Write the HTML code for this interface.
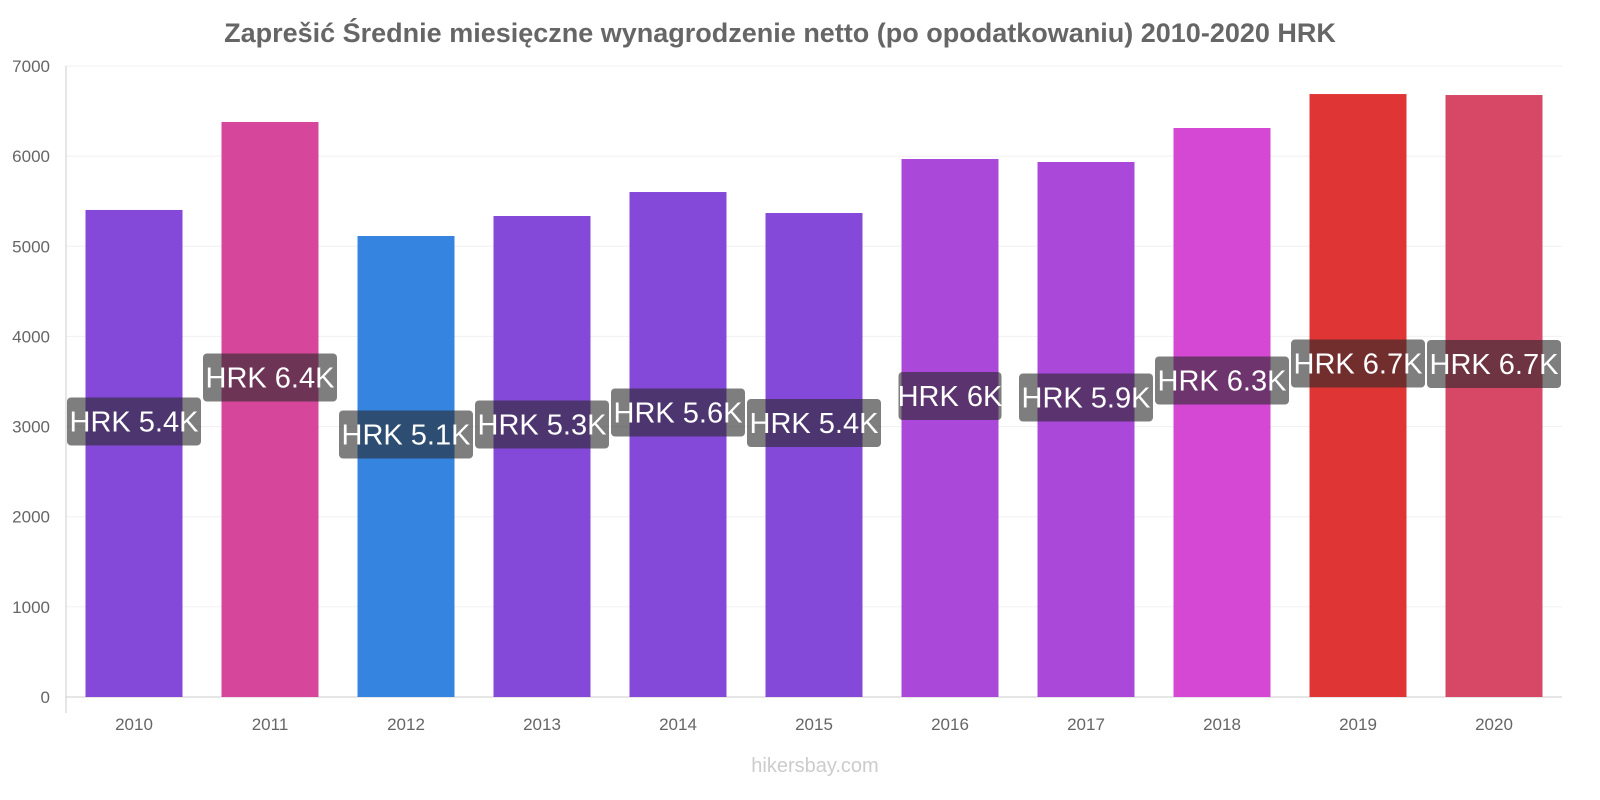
<!DOCTYPE html>
<html><head><meta charset="utf-8"><style>
html,body{margin:0;padding:0;background:#fff;font-family:"Liberation Sans",sans-serif;overflow:hidden;width:1600px;height:800px}
svg{display:block}
</style></head><body>
<svg id="chart" width="1600" height="800" xmlns="http://www.w3.org/2000/svg">
<text x="780" y="42" text-anchor="middle" font-size="27" font-weight="bold" fill="#666">Zaprešić Średnie miesięczne wynagrodzenie netto (po opodatkowaniu) 2010-2020 HRK</text>
<g id="grid"></g><g id="bars"></g><g id="labels"></g>
<text x="815" y="772" text-anchor="middle" font-size="20" fill="#ccc">hikersbay.com</text>
</svg>
<script>
const years=["2010","2011","2012","2013","2014","2015","2016","2017","2018","2019","2020"];
const values=[5403,6379,5114,5336,5602,5369,5968,5935,6312,6689,6678];
const valueLabels=["HRK 5.4K","HRK 6.4K","HRK 5.1K","HRK 5.3K","HRK 5.6K","HRK 5.4K","HRK 6K","HRK 5.9K","HRK 6.3K","HRK 6.7K","HRK 6.7K"];
const yTicks=[0,1000,2000,3000,4000,5000,6000,7000];
const colors=["#8549d9","#d6479b","#3584e0","#8549d9","#8549d9","#8549d9","#a948d9","#a948d9","#d448d4","#e03535","#d64866"];
const NS="http://www.w3.org/2000/svg";
const x0=66,x1=1562,yTop=66,yBot=697,yMax=7000;
const band=(x1-x0)/years.length;
const y=v=>yBot-(v/yMax)*(yBot-yTop);
const xc=i=>x0+band*(i+0.5);
function mk(t,a,p){const e=document.createElementNS(NS,t);for(const k in a)e.setAttribute(k,a[k]);p.appendChild(e);return e;}
const grid=document.getElementById('grid');
yTicks.forEach(t=>{
 const l=mk('line',{x1:x0,x2:x1,y1:y(t),y2:y(t),stroke:t===0?'#ccc':'#f0f0f0'},grid);
 
 
 const tx=mk('text',{x:50,y:y(t)+6,'text-anchor':'end','font-size':17,fill:'#666'},grid);
 tx.textContent=t;
 
 
});
const ax=mk('line',{x1:x0,x2:x0,y1:yTop,y2:yBot+16,stroke:'#ccc'},grid);


const bars=document.getElementById('bars'),labs=document.getElementById('labels');
years.forEach((yr,i)=>{
 const r=mk('rect',{x:xc(i)-48.5,y:y(values[i]),width:97,height:yBot-y(values[i]),fill:colors[i]},bars);
 
 
 const xt=mk('text',{x:xc(i),y:730,'text-anchor':'middle','font-size':17,fill:'#666'},labs);
 xt.textContent=yr;
 
 
 const ly=(y(values[i])+yBot)/2-32;
 const w=valueLabels[i].length*15.5+10;
 const b=mk('rect',{x:xc(i)-w/2,y:ly-24,width:w,height:48,rx:4,fill:'rgba(40,40,40,0.6)'},labs);
 
 
 const vt=mk('text',{x:xc(i),y:ly+10,'text-anchor':'middle','font-size':29,fill:'#fff'},labs);
 vt.textContent=valueLabels[i];
 
 
});
</script>
</body></html>
